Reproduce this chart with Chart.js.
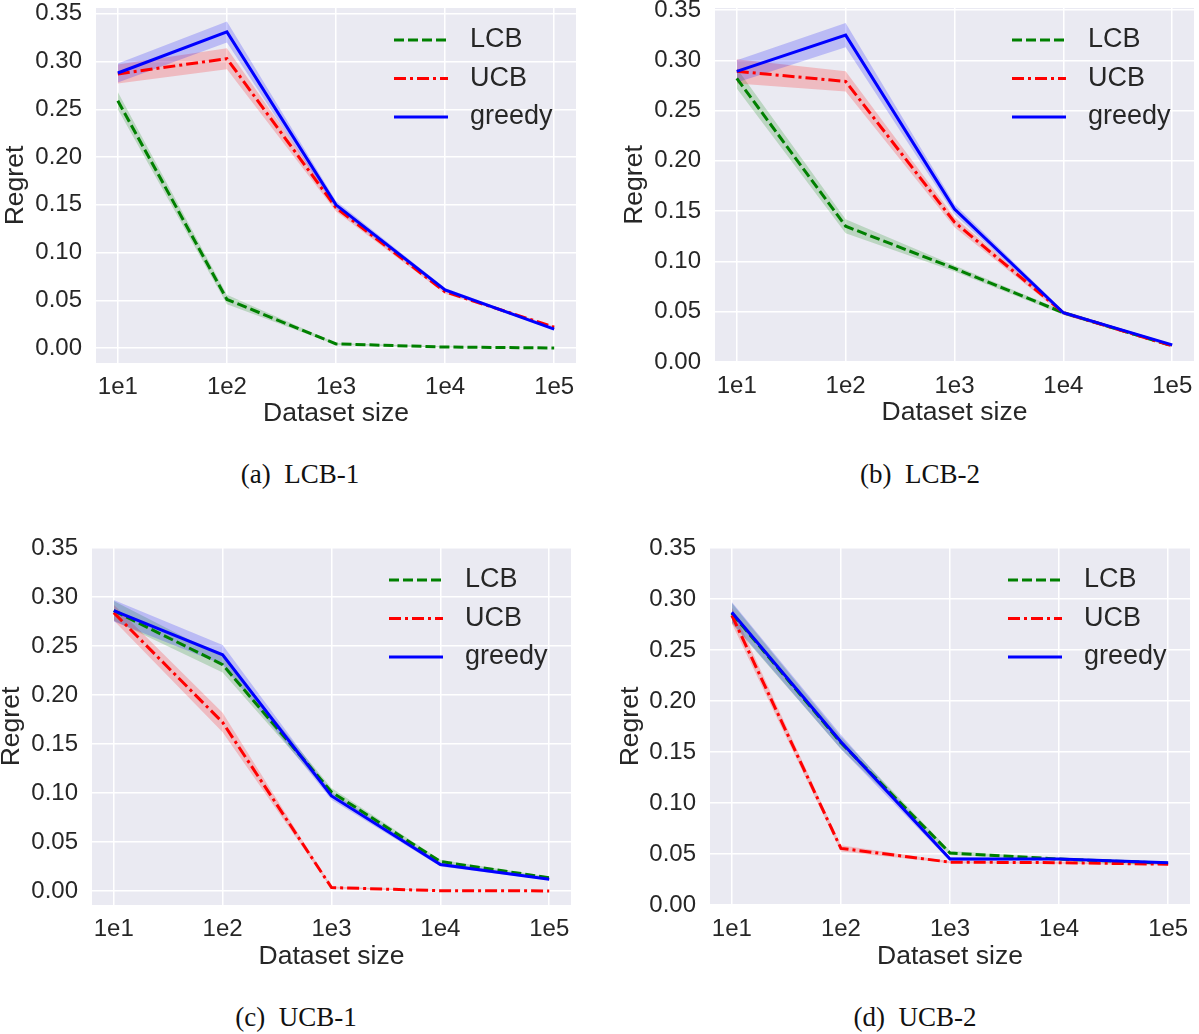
<!DOCTYPE html>
<html>
<head>
<meta charset="utf-8">
<script src="https://cdn.jsdelivr.net/npm/chart.js@4.4.0/dist/chart.umd.min.js"></script>
<style>
  body { margin: 0; background: #fff; width: 1199px; height: 1034px; position: relative; overflow: hidden; }
  canvas { position: absolute; }
  .cap { position: absolute; font-family: "Liberation Serif", serif; font-size: 27px; color: #111;
         white-space: pre; line-height: 1; transform: translate(-50%, -50%); }
</style>
</head>
<body>
<canvas id="lcb1" width="600" height="430" style="left:0px;top:0px"></canvas>
<canvas id="lcb2" width="580" height="429" style="left:619px;top:0px"></canvas>
<canvas id="ucb1" width="604" height="443" style="left:-4px;top:530px"></canvas>
<canvas id="ucb2" width="584" height="443" style="left:615px;top:530px"></canvas>
<div class="cap" style="left:300px;top:474px">(a)  LCB-1</div>
<div class="cap" style="left:920px;top:474px">(b)  LCB-2</div>
<div class="cap" style="left:296px;top:1017px">(c)  UCB-1</div>
<div class="cap" style="left:915px;top:1017px">(d)  UCB-2</div>
<script>
// x axis: dataset sizes shown on a log10 position
const sizeLabels = ["1e1", "1e2", "1e3", "1e4", "1e5"];
const sizeExponents = [1, 2, 3, 4, 5];
const regretTicks = [0, 0.05, 0.1, 0.15, 0.2, 0.25, 0.3, 0.35];

// (a) LCB-1
const lcb1LCB = [0.259, 0.051, 0.0045, 0.0012, 0.0002];
const lcb1LCBBand = [0.009, 0.005, 0.001, 0.0005, 0.0003];
const lcb1UCB = [0.287, 0.303, 0.147, 0.059, 0.022];
const lcb1UCBBand = [0.010, 0.011, 0.004, 0.002, 0.001];
const lcb1Greedy = [0.288, 0.331, 0.150, 0.061, 0.020];
const lcb1GreedyBand = [0.010, 0.011, 0.004, 0.002, 0.001];

// (b) LCB-2
const lcb2LCB = [0.282, 0.135, 0.093, 0.049, 0.016];
const lcb2LCBBand = [0.010, 0.007, 0.003, 0.002, 0.001];
const lcb2UCB = [0.289, 0.279, 0.139, 0.049, 0.016];
const lcb2UCBBand = [0.012, 0.010, 0.005, 0.002, 0.001];
const lcb2Greedy = [0.289, 0.325, 0.152, 0.049, 0.017];
const lcb2GreedyBand = [0.011, 0.012, 0.005, 0.002, 0.001];

// (c) UCB-1
const ucb1LCB = [0.286, 0.231, 0.101, 0.030, 0.0135];
const ucb1LCBBand = [0.010, 0.008, 0.004, 0.002, 0.001];
const ucb1UCB = [0.284, 0.172, 0.0035, 0.0003, 0.0001];
const ucb1UCBBand = [0.008, 0.010, 0.001, 0.0003, 0.0001];
const ucb1Greedy = [0.286, 0.241, 0.097, 0.027, 0.012];
const ucb1GreedyBand = [0.011, 0.010, 0.004, 0.002, 0.001];

// (d) UCB-2
const ucb2LCB = [0.286, 0.159, 0.051, 0.045, 0.041];
const ucb2LCBBand = [0.010, 0.006, 0.002, 0.001, 0.001];
const ucb2UCB = [0.284, 0.0555, 0.042, 0.0415, 0.040];
const ucb2UCBBand = [0.008, 0.003, 0.001, 0.001, 0.001];
const ucb2Greedy = [0.287, 0.160, 0.045, 0.045, 0.0415];
const ucb2GreedyBand = [0.010, 0.007, 0.002, 0.001, 0.001];

const textColor = "#262626";
const sans = "'Liberation Sans', Arial, sans-serif";

const styles = {
  LCB: { color: "#008000", band: "rgba(0,128,0,0.2)", dash: [10, 4], order: 2 },
  UCB: { color: "#ff0000", band: "rgba(255,0,0,0.2)", dash: [12, 4, 3, 4], order: 1 },
  greedy: { color: "#0000ff", band: "rgba(0,0,255,0.2)", dash: [], order: 0 },
};

function points(values) {
  return values.map((v, i) => ({ x: sizeExponents[i], y: v }));
}

// one line plus its shaded band (upper fills down to lower)
function series(name, mean, band) {
  const s = styles[name];
  return [
    { label: name, data: points(mean), borderColor: s.color, borderWidth: 3,
      borderDash: s.dash, fill: false, order: s.order },
    { label: name + " upper", isBand: true, data: points(mean.map((v, i) => v + band[i])),
      borderWidth: 0, backgroundColor: s.band, fill: "+1", order: 5 + s.order },
    { label: name + " lower", isBand: true, data: points(mean.map((v, i) => v - band[i])),
      borderWidth: 0, fill: false, order: 5 + s.order },
  ];
}

// grey seaborn-like plot background
const plotBg = {
  id: "plotBg",
  beforeDraw(chart) {
    const { ctx, chartArea: a } = chart;
    ctx.save();
    ctx.fillStyle = "#eaeaf2";
    ctx.fillRect(a.left, a.top, a.right - a.left, a.bottom - a.top);
    ctx.restore();
  }
};

// legend drawn inside the plot, upper right, no frame
const insideLegend = {
  id: "insideLegend",
  afterDatasetsDraw(chart) {
    const { ctx, chartArea: a } = chart;
    const items = chart.data.datasets.filter(d => !d.isBand);
    ctx.save();
    items.forEach((ds, i) => {
      const y = a.top + 32 + i * 38.5;
      ctx.strokeStyle = ds.borderColor;
      ctx.lineWidth = ds.borderWidth;
      ctx.setLineDash(ds.borderDash);
      ctx.beginPath();
      ctx.moveTo(a.right - 182, y);
      ctx.lineTo(a.right - 128, y);
      ctx.stroke();
      ctx.setLineDash([]);
      ctx.fillStyle = textColor;
      ctx.font = "27px " + sans;
      ctx.textBaseline = "middle";
      ctx.fillText(ds.label, a.right - 106, y);
    });
    ctx.restore();
  }
};

function drawPanel(id, lcb, ucb, greedy, box) {
  const ctx = document.getElementById(id).getContext("2d");
  new Chart(ctx, {
    type: "line",
    data: {
      datasets: [
        ...series("LCB", lcb[0], lcb[1]),
        ...series("UCB", ucb[0], ucb[1]),
        ...series("greedy", greedy[0], greedy[1]),
      ],
    },
    options: {
      responsive: false,
      animation: false,
      layout: { padding: { top: box.top, right: box.right, left: 0, bottom: 0 } },
      elements: { point: { radius: 0 }, line: { tension: 0 } },
      plugins: { legend: { display: false }, tooltip: { enabled: false } },
      scales: {
        x: {
          type: "linear", min: 0.8, max: 5.2,
          afterBuildTicks: s => { s.ticks = sizeExponents.map(v => ({ value: v })); },
          afterFit: s => { s.height = box.xHeight; s.paddingLeft = 0; s.paddingRight = 0; },
          grid: { color: "#ffffff", lineWidth: 1.5, drawTicks: false },
          border: { display: false },
          ticks: { padding: 10, color: textColor, font: { family: sans, size: 24 },
                   maxRotation: 0, callback: (v, i) => sizeLabels[i] },
          title: { display: true, text: "Dataset size", color: textColor,
                   font: { family: sans, size: 26.5 }, padding: 0 },
        },
        y: {
          min: box.yMin, max: box.yMax,
          afterBuildTicks: s => { s.ticks = regretTicks.map(v => ({ value: v })); },
          afterFit: s => { s.width = box.yWidth; s.paddingTop = 0; s.paddingBottom = 0; },
          grid: { color: "#ffffff", lineWidth: 1.5, drawTicks: false },
          border: { display: false },
          ticks: { padding: 14, color: textColor, font: { family: sans, size: 24 },
                   callback: v => v.toFixed(2) },
          title: { display: true, text: "Regret", color: textColor,
                   font: { family: sans, size: 26.5 }, padding: 0 },
        },
      },
    },
    plugins: [plotBg, insideLegend],
  });
}

drawPanel("lcb1", [lcb1LCB, lcb1LCBBand], [lcb1UCB, lcb1UCBBand], [lcb1Greedy, lcb1GreedyBand],
  { top: 8, right: 24, xHeight: 67, yWidth: 96, yMin: -0.0155, yMax: 0.356 });
drawPanel("lcb2", [lcb2LCB, lcb2LCBBand], [lcb2UCB, lcb2UCBBand], [lcb2Greedy, lcb2GreedyBand],
  { top: 8, right: 5, xHeight: 67, yWidth: 96, yMin: 0, yMax: 0.352 });
drawPanel("ucb1", [ucb1LCB, ucb1LCBBand], [ucb1UCB, ucb1UCBBand], [ucb1Greedy, ucb1GreedyBand],
  { top: 18, right: 29, xHeight: 68, yWidth: 96, yMin: -0.0143, yMax: 0.35 });
drawPanel("ucb2", [ucb2LCB, ucb2LCBBand], [ucb2UCB, ucb2UCBBand], [ucb2Greedy, ucb2GreedyBand],
  { top: 18, right: 9, xHeight: 68, yWidth: 95, yMin: 0, yMax: 0.35 });
</script>
</body>
</html>
